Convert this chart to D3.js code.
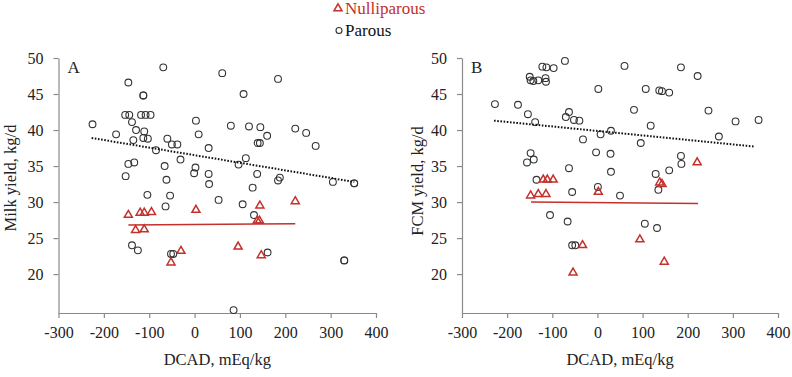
<!DOCTYPE html>
<html>
<head>
<meta charset="utf-8">
<script src="https://cdn.jsdelivr.net/npm/d3@7"></script>
<style>
  body { margin: 0; background: #fff; }
  text { font-family: "Liberation Serif", "Times New Roman", serif; }
</style>
</head>
<body>
<div id="chart"></div>
<script>
// ---- data ----
const xTicks = [-300, -200, -100, 0, 100, 200, 300, 400]
const yTicks = [20, 25, 30, 35, 40, 45, 50]

// Panel A: milk yield
const milkParousDcad = [-69, 61, 184, -146, -113, -113, 108, -153, -144, -118, -108, -97, -225, -138, 3, 80, 120, 145, 222, 246,
  -173, -129, -111, 9, 160, -135, -113, -103, -60, -50, -38, 139, 144, 267, -85, 31, 113, 97, -31, -146,
  -133, -66, 2, -1, 31, 138, 188, 184, -152, -62, 32, 128, 305, 352, 352, -104, -54, 53, -64, 106,
  131, -138, -125, -52, -47, 161, 330, 330, 86]
const milkParousYield = [48.7, 47.9, 47.1, 46.6, 44.8, 44.8, 45.0, 42.1, 42.1, 42.1, 42.1, 42.1, 40.8, 41.1, 41.3, 40.6, 40.5, 40.4, 40.2, 39.6,
  39.4, 40.0, 39.8, 39.4, 39.2, 38.6, 38.9, 38.8, 38.8, 38.0, 38.0, 38.2, 38.2, 37.8, 37.2, 37.5, 36.1, 35.2, 35.9, 35.3,
  35.5, 35.0, 34.8, 34.0, 33.9, 33.9, 33.4, 33.0, 33.6, 33.1, 32.5, 32.0, 32.8, 32.6, 32.6, 31.0, 30.9, 30.3, 29.4, 29.7,
  28.2, 24.0, 23.3, 22.8, 22.8, 23.0, 21.9, 21.9, 15.0]
const milkNulliDcad = [-146, -120, -111, -95, -130, -111, 3, 144, 222, 138, 143, 96, -30, -52, 147]
const milkNulliYield = [28.2, 28.5, 28.5, 28.6, 26.1, 26.2, 28.9, 29.5, 30.1, 27.4, 27.4, 23.8, 23.2, 21.6, 22.6]
const milkParousTrend = [[-227, 38.9], [352, 32.8]]
const milkNulliTrend = [[-146, 26.8], [222, 27.0]]

// Panel B: FCM yield
const fcmParousDcad = [-72, -122, -113, -97, 60, 185, 222, -150, -148, -142, -131, -115, -114, 2, 107, 137, 143, 159, -227, -176,
  -154, -138, -63, -70, -52, -40, 81, 246, 118, 306, 357, 30, 7, -32, 269, 96, -148, -156, -141, -3,
  29, 185, 186, -63, 30, 159, 129, -135, 1, 135, -56, 50, -105, -66, 105, 132, -56, -49]
const fcmParousYield = [49.6, 48.8, 48.7, 48.6, 48.9, 48.7, 47.5, 47.4, 46.9, 46.8, 46.9, 47.2, 46.7, 45.7, 45.7, 45.5, 45.4, 45.2, 43.6, 43.5,
  42.2, 41.1, 42.5, 41.8, 41.4, 41.3, 42.8, 42.7, 40.6, 41.2, 41.4, 39.9, 39.4, 38.7, 39.1, 38.2, 36.8, 35.5, 35.9, 36.9,
  36.7, 36.4, 35.3, 34.7, 34.2, 34.4, 33.9, 33.1, 32.1, 31.7, 31.4, 30.9, 28.2, 27.3, 27.0, 26.4, 24.0, 24.0]
const fcmNulliDcad = [-120, -111, -98, -148, -131, -114, 2, 138, 143, 221, 94, -33, -54, 148]
const fcmNulliYield = [33.1, 33.1, 33.1, 30.9, 31.1, 31.1, 31.4, 32.7, 32.5, 35.5, 24.8, 24.0, 20.2, 21.7]
const fcmParousTrend = [[-229, 41.3], [349, 37.7]]
const fcmNulliTrend = [[-147, 30.0], [223, 29.8]]

// ---- styles ----
const red = '#c4302b'
const dark = '#333333'
const axisGray = '#8a8a8a'

const svg = d3.select('#chart')
  .append('svg')
  .attr('width', 792)
  .attr('height', 377)

function drawPanel(p) {
  const xScale = d3.scaleLinear().domain([-300, 400]).range([p.left, p.right])
  const yScale = d3.scaleLinear().domain([14.6, 50]).range([313, 58])

  const g = svg.append('g')

  // axes (plain hyphen for negatives, like the original)
  const yAxis = g.append('g')
    .attr('transform', `translate(${p.left},0)`)
    .call(d3.axisLeft(yScale).tickValues(yTicks).tickFormat(d => String(d))
      .tickSize(5).tickSizeOuter(0).tickPadding(10))
  const xAxis = g.append('g')
    .attr('transform', `translate(0,313)`)
    .call(d3.axisBottom(xScale).tickValues(xTicks).tickFormat(d => String(d))
      .tickSize(5).tickSizeOuter(0).tickPadding(9))

  ;[xAxis, yAxis].forEach(a => {
    a.select('.domain').attr('stroke', axisGray).attr('stroke-width', 1.2)
    a.selectAll('.tick line').attr('stroke', axisGray).attr('stroke-width', 1.2)
    a.selectAll('.tick text').attr('fill', '#222').style('font-size', '16px')
      .style('font-family', '"Liberation Serif", serif')
  })

  // titles
  g.append('text')
    .attr('transform', `translate(${p.yTitleX},${p.yTitleY}) rotate(-90)`)
    .attr('text-anchor', 'middle')
    .attr('dy', '0.35em')
    .attr('fill', '#222')
    .style('font-size', '16.5px')
    .text(p.yTitle)
  g.append('text')
    .attr('x', (p.left + p.right) / 2)
    .attr('y', 364.5)
    .attr('text-anchor', 'middle')
    .attr('fill', '#222')
    .style('font-size', '16.5px')
    .text('DCAD, mEq/kg')
  g.append('text')
    .attr('x', p.left + 9)
    .attr('y', 73)
    .attr('fill', '#222')
    .style('font-size', '17px')
    .text(p.letter)

  // points
  const parous = p.parousX.map((d, i) => [d, p.parousY[i]])
  const nulli = p.nulliX.map((d, i) => [d, p.nulliY[i]])

  g.append('g')
    .selectAll('circle')
    .data(parous)
    .join('circle')
    .attr('cx', d => xScale(d[0]))
    .attr('cy', d => yScale(d[1]))
    .attr('r', 3.4)
    .attr('fill', 'none')
    .attr('stroke', dark)
    .attr('stroke-width', 1.1)

  const tri = d3.symbol().type(d3.symbolTriangle).size(28)
  g.append('g')
    .selectAll('path')
    .data(nulli)
    .join('path')
    .attr('transform', d => `translate(${xScale(d[0])},${yScale(d[1])})`)
    .attr('d', tri)
    .attr('fill', 'none')
    .attr('stroke', red)
    .attr('stroke-width', 1.5)

  // trend lines
  const line = d3.line().x(d => xScale(d[0])).y(d => yScale(d[1]))
  g.append('path')
    .attr('d', line(p.parousTrend))
    .attr('fill', 'none')
    .attr('stroke', '#111')
    .attr('stroke-width', 2)
    .attr('stroke-dasharray', '1.6,1.6')
  g.append('path')
    .attr('d', line(p.nulliTrend))
    .attr('fill', 'none')
    .attr('stroke', red)
    .attr('stroke-width', 1.5)
}

drawPanel({
  left: 58.5, right: 376, letter: 'A',
  yTitle: 'Milk yield, kg/d', yTitleX: 10, yTitleY: 178,
  parousX: milkParousDcad, parousY: milkParousYield,
  nulliX: milkNulliDcad, nulliY: milkNulliYield,
  parousTrend: milkParousTrend, nulliTrend: milkNulliTrend
})

drawPanel({
  left: 462, right: 778, letter: 'B',
  yTitle: 'FCM yield, kg/d', yTitleX: 417, yTitleY: 181,
  parousX: fcmParousDcad, parousY: fcmParousYield,
  nulliX: fcmNulliDcad, nulliY: fcmNulliYield,
  parousTrend: fcmParousTrend, nulliTrend: fcmNulliTrend
})

// legend
const legend = svg.append('g')
legend.append('path')
  .attr('transform', 'translate(338,8.5)')
  .attr('d', d3.symbol().type(d3.symbolTriangle).size(28))
  .attr('fill', 'none')
  .attr('stroke', red)
  .attr('stroke-width', 1.5)
legend.append('text')
  .attr('x', 345).attr('y', 13.5)
  .attr('fill', red)
  .style('font-size', '17px')
  .text('Nulliparous')
legend.append('circle')
  .attr('cx', 339).attr('cy', 30.5).attr('r', 3)
  .attr('fill', 'none')
  .attr('stroke', dark)
  .attr('stroke-width', 1.1)
legend.append('text')
  .attr('x', 345).attr('y', 35.5)
  .attr('fill', '#111')
  .style('font-size', '17px')
  .text('Parous')
</script>
</body>
</html>
